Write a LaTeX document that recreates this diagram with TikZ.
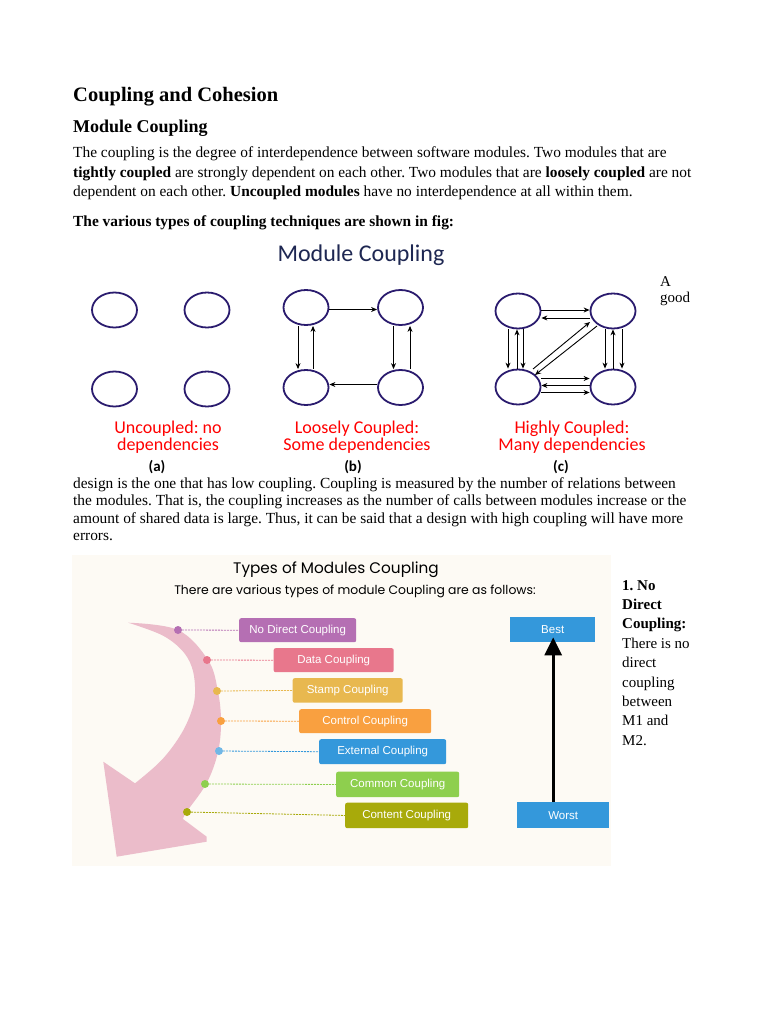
\documentclass[tikz,border=0pt]{standalone}
\usepackage{fontspec}
\setmainfont{Liberation Serif}
\newfontfamily\figfont{Carlito}
\newfontfamily\gothic{Poppins}
\newfontfamily\arialf{Liberation Sans}
\usetikzlibrary{arrows.meta,shapes.geometric}
\definecolor{navy}{HTML}{2A1B6E}
\definecolor{titlenavy}{HTML}{1E2752}
\definecolor{cream}{HTML}{FDFAF4}
\definecolor{pinkarrow}{HTML}{EBBCCA}
\definecolor{cpurple}{HTML}{B56FB3}
\definecolor{cpink}{HTML}{E8778C}
\definecolor{cyellow}{HTML}{E8B84F}
\definecolor{corange}{HTML}{F9A040}
\definecolor{cblue}{HTML}{3498DB}
\definecolor{cgreen}{HTML}{8ECF4E}
\definecolor{colive}{HTML}{A8AA0A}
\frenchspacing
\begin{document}
\begin{tikzpicture}[x=1pt,y=-1pt,
  body/.style={anchor=base west, inner sep=0pt, font=\fontsize{15.4}{19}\selectfont},
  side/.style={anchor=base west, inner sep=0pt, font=\fontsize{15}{19}\selectfont},
  modnode/.style={ellipse, draw=navy, line width=1.8pt, minimum width=45pt, minimum height=35pt, inner sep=0pt},
  arr/.style={-{Stealth[length=6pt,width=5pt]}, line width=0.9pt, black},
  redlab/.style={text=red, font=\figfont\fontsize{18}{18}\selectfont, inner sep=0pt, anchor=base},
  sublab/.style={font=\figfont\bfseries\fontsize{15}{15}\selectfont, inner sep=0pt, anchor=base},
  cbox/.style={fill=#1, rounded corners=2pt, text=white, font=\arialf\fontsize{11.5}{11.5}\selectfont, inner sep=0pt, anchor=north west},
  cdot/.style={circle, fill=#1, minimum size=8pt, inner sep=0pt},
  cline/.style={draw=#1, dashed, dash pattern=on 2pt off 1pt, line width=0.8pt},
  rankbox/.style={fill=cblue, text=white, font=\arialf\fontsize{11.5}{11.5}\selectfont, inner sep=0pt, anchor=north west}
]
\useasboundingbox (0,0) rectangle (768,1024);
\fill[white] (0,0) rectangle (768,1024);

% headings and paragraph
\node[body, font=\bfseries\fontsize{20.5}{24}\selectfont] (h1) at (73,102) {Coupling and Cohesion};
\node[body, font=\bfseries\fontsize{18}{22}\selectfont] (h2) at (73,133) {Module Coupling};
\node[body] (p1) at (73,158) {The coupling is the degree of interdependence between software modules. Two modules that are};
\node[body] (p2) at (73,177.5) {\textbf{tightly coupled} are strongly dependent on each other. Two modules that are \textbf{loosely coupled} are not};
\node[body] (p3) at (73,197) {dependent on each other. \textbf{Uncoupled modules} have no interdependence at all within them.};
\node[body, font=\bfseries\fontsize{15.4}{19}\selectfont] (p4) at (73,226) {The various types of coupling techniques are shown in fig:};

% figure 1
\node[font=\figfont\fontsize{24}{24}\selectfont, text=titlenavy, inner sep=0pt, anchor=base] (ftitle) at (361,261) {Module Coupling};

% (a)
\node[modnode] (a1) at (114.5,310) {};
\node[modnode] (a2) at (207,310) {};
\node[modnode] (a3) at (114.5,389) {};
\node[modnode] (a4) at (207,389) {};
\node[redlab] (la1) at (168,433) {Uncoupled: no};
\node[redlab] (la2) at (168,450) {dependencies};
\node[sublab] (la3) at (157,471) {(a)};

% (b)
\node[modnode] (b1) at (306,307.5) {};
\node[modnode] (b2) at (400.5,307.5) {};
\node[modnode] (b3) at (306,387.5) {};
\node[modnode] (b4) at (400.5,387.5) {};
\draw[arr] ([yshift=-2]b1.east) -- ([yshift=-2]b2.west);
\draw[arr] ([yshift=3]b4.west) -- ([yshift=3]b3.east);
\draw[arr] ([xshift=-8]b1.south) -- ([xshift=-8]b3.north);
\draw[arr] ([xshift=7]b3.north) -- ([xshift=7]b1.south);
\draw[arr] ([xshift=-7]b2.south) -- ([xshift=-7]b4.north);
\draw[arr] ([xshift=9.5]b4.north) -- ([xshift=9.5]b2.south);
\node[redlab] (lb1) at (357,433) {Loosely Coupled:};
\node[redlab] (lb2) at (357,450) {Some dependencies};
\node[sublab] (lb3) at (353,471) {(b)};

% (c)
\node[modnode] (c1) at (518,311) {};
\node[modnode] (c2) at (613,311) {};
\node[modnode] (c3) at (518,387) {};
\node[modnode] (c4) at (613,387) {};
\draw[arr] ([yshift=-7]c2.west) -- ([yshift=-7]c1.east);
\draw[arr] ([yshift=1]c1.east) -- ([yshift=1]c2.west);
\draw[arr] ([yshift=-5.5]c3.east) -- ([yshift=-5.5]c4.west);
\draw[arr] ([yshift=1.5]c4.west) -- ([yshift=1.5]c3.east);
\draw[arr] ([yshift=8.5]c3.east) -- ([yshift=8.5]c4.west);
\draw[arr] ([xshift=-10]c1.south) -- ([xshift=-10]c3.north);
\draw[arr] ([xshift=-1]c3.north) -- ([xshift=-1]c1.south);
\draw[arr] ([xshift=5]c1.south) -- ([xshift=5]c3.north);
\draw[arr] ([xshift=-8]c2.south) -- ([xshift=-8]c4.north);
\draw[arr] ([xshift=0]c4.north) -- ([xshift=0]c2.south);
\draw[arr] ([xshift=9]c2.south) -- ([xshift=9]c4.north);
\draw[arr] ([shift={(15,-18)}]c3.center) -- ([shift={(-23,11)}]c2.center);
\draw[arr] ([shift={(-16,15)}]c2.center) -- ([shift={(17,-12)}]c3.center);
\node[redlab] (lc1) at (572,433) {Highly Coupled:};
\node[redlab] (lc2) at (572,450) {Many dependencies};
\node[sublab] (lc3) at (561,471) {(c)};

\node[side] (ga) at (660,286) {A};
\node[side] (gb) at (660,302) {good};

% paragraph 2
\node[body] (q1) at (73,488) {design is the one that has low coupling. Coupling is measured by the number of relations between};
\node[body] (q2) at (73,505.5) {the modules. That is, the coupling increases as the number of calls between modules increase or the};
\node[body] (q3) at (73,523) {amount of shared data is large. Thus, it can be said that a design with high coupling will have more};
\node[body] (q4) at (73,540.5) {errors.};

% figure 2
\fill[cream] (72,555) rectangle (611,866);
\node[font=\gothic\fontsize{15.3}{15.3}\selectfont, inner sep=0pt, anchor=base] (t2) at (336,573.5) {Types of Modules Coupling};
\node[font=\gothic\fontsize{12.4}{12.4}\selectfont, inner sep=0pt, anchor=base] (t3) at (355,594.5) {There are various types of module Coupling are as follows:};

\fill[pinkarrow] plot[smooth, tension=0.6] coordinates {(128.3,622.7) (178,630) (208,660) (217.7,690) (221,721) (218,752) (206.7,783) (186.7,811.7) (183,819)}
  -- (206.7,836.7) -- (206.7,841.7) -- (116.7,856.7) -- (103.3,761.7) --
  plot[smooth, tension=0.6] coordinates {(135,783.3) (161.7,760) (181.7,733) (193,706.7) (195,686.7) (191.7,666.7) (181.7,650) (161.7,635) (128.3,622.7)} -- cycle;

\node[cbox=cpurple, minimum width=117pt, minimum height=24pt] (k1) at (239,618) {No Direct Coupling};
\node[cbox=cpink, minimum width=120pt, minimum height=24pt] (k2) at (273.5,648) {Data Coupling};
\node[cbox=cyellow, minimum width=110pt, minimum height=24.5pt] (k3) at (292.5,678) {Stamp Coupling};
\node[cbox=corange, minimum width=132pt, minimum height=24pt] (k4) at (299,709) {Control Coupling};
\node[cbox=cblue, minimum width=127pt, minimum height=25pt] (k5) at (319,739) {External Coupling};
\node[cbox=cgreen, minimum width=123pt, minimum height=25.5pt] (k6) at (336,771.5) {Common Coupling};
\node[cbox=colive, minimum width=123pt, minimum height=25.5pt] (k7) at (345,802.5) {Content Coupling};

\node[cdot=cpurple] (d1) at (178,630) {};
\node[cdot=cpink] (d2) at (207,660) {};
\node[cdot=cyellow] (d3) at (217,691) {};
\node[cdot=corange] (d4) at (221,721) {};
\node[cdot=cblue!70] (d5) at (219,751) {};
\node[cdot=cgreen] (d6) at (205,784) {};
\node[cdot=colive] (d7) at (187,812) {};
\draw[cline=cpurple] (d1) -- (k1.west);
\draw[cline=cpink] (d2) -- (k2.west);
\draw[cline=cyellow] (d3) -- (k3.west);
\draw[cline=corange] (d4) -- (k4.west);
\draw[cline=cblue] (d5) -- (k5.west);
\draw[cline=cgreen] (d6) -- (k6.west);
\draw[cline=colive] (d7) -- (k7.west);

\node[rankbox, minimum width=85pt, minimum height=25pt] (best) at (510,617) {Best};
\node[rankbox, minimum width=92pt, minimum height=26pt] (worst) at (517,802) {Worst};
\draw[line width=3pt, -{Triangle[length=18pt,width=17pt]}] ([xshift=-10]worst.north) -- ([xshift=0.5, yshift=5]best.south);

% right column
\node[side, font=\bfseries\fontsize{15}{19}\selectfont] (r1) at (622,590) {1. No};
\node[side, font=\bfseries\fontsize{15}{19}\selectfont] (r2) at (622,609.4) {Direct};
\node[side, font=\bfseries\fontsize{15}{19}\selectfont] (r3) at (622,628.8) {Coupling:};
\node[side] (r4) at (622,648.2) {There is no};
\node[side] (r5) at (622,667.6) {direct};
\node[side] (r6) at (622,687) {coupling};
\node[side] (r7) at (622,706.4) {between};
\node[side] (r8) at (622,725.8) {M1 and};
\node[side] (r9) at (622,745.2) {M2.};
\end{tikzpicture}
\end{document}
